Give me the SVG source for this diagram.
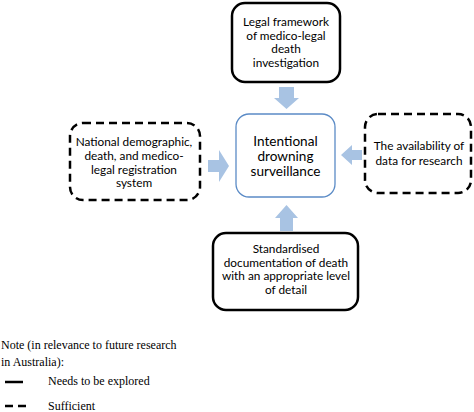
<svg xmlns="http://www.w3.org/2000/svg" width="474" height="412" viewBox="0 0 474 412">
<style>
.box{fill:#fff;stroke:#000;stroke-width:2.5}
.dash{stroke-dasharray:8 5}
.ctr{fill:#fff;stroke:#5b8bc6;stroke-width:1.3}
.t{font-family:Lato,"Liberation Sans",sans-serif;font-size:11.8px;fill:#000;text-anchor:middle}
.tc{font-size:13.6px}
.arr{fill:#a8c3e3}
.n{font-family:"Liberation Serif",serif;font-size:12px;fill:#000}
</style>
<rect width="474" height="412" fill="#fff"/>
<g id="connectors">
<path class="arr" d="M279,87 H294 V98 H299 L286.5,109 L274,98 H279 Z"/>
<path class="arr" d="M208,160 H219 V150 L229,166 L219,182 V172 H208 Z"/>
<path class="arr" d="M362,150 H352 V145 L341,155 L352,165 V160 H362 Z"/>
<path class="arr" d="M280,231 H293 V218 H298 L286.5,205 L275,218 H280 Z"/>
</g>
<g id="legal">
<rect class="box" x="232" y="3" width="108" height="79" rx="13"/>
<text class="t" x="286" y="26">Legal framework</text>
<text class="t" x="286" y="39.5">of medico-legal</text>
<text class="t" x="286" y="53">death</text>
<text class="t" x="286" y="66.5">investigation</text>
</g>
<g id="center">
<rect class="ctr" x="236" y="114" width="99" height="83" rx="13"/>
<text class="t tc" x="285.5" y="146">Intentional</text>
<text class="t tc" x="285.5" y="161">drowning</text>
<text class="t tc" x="285.5" y="176">surveillance</text>
</g>
<g id="national">
<rect class="box dash" x="70" y="123" width="130" height="77" rx="13"/>
<text class="t" x="134" y="146">National demographic,</text>
<text class="t" x="134" y="160">death, and medico-</text>
<text class="t" x="134" y="173.5">legal registration</text>
<text class="t" x="134" y="187">system</text>
</g>
<g id="availability">
<rect class="box dash" x="365" y="114" width="106" height="79" rx="13"/>
<text class="t" x="419" y="150">The availability of</text>
<text class="t" x="419" y="164.5">data for research</text>
</g>
<g id="standard">
<rect class="box" x="213" y="233" width="145" height="77" rx="13"/>
<text class="t" x="286" y="253">Standardised</text>
<text class="t" x="286" y="266.5">documentation of death</text>
<text class="t" x="286" y="280">with an appropriate level</text>
<text class="t" x="286" y="293.5">of detail</text>
</g>
<g id="legend">
<text class="n" x="1" y="349">Note (in relevance to future research</text>
<text class="n" x="1" y="366">in Australia):</text>
<line x1="5" y1="382" x2="23" y2="382" stroke="#000" stroke-width="2.5"/>
<text class="n" x="48" y="385">Needs to be explored</text>
<line x1="5" y1="406" x2="26" y2="406" stroke="#000" stroke-width="2.5" stroke-dasharray="8 5"/>
<text class="n" x="48" y="410">Sufficient</text>
</g>
</svg>
